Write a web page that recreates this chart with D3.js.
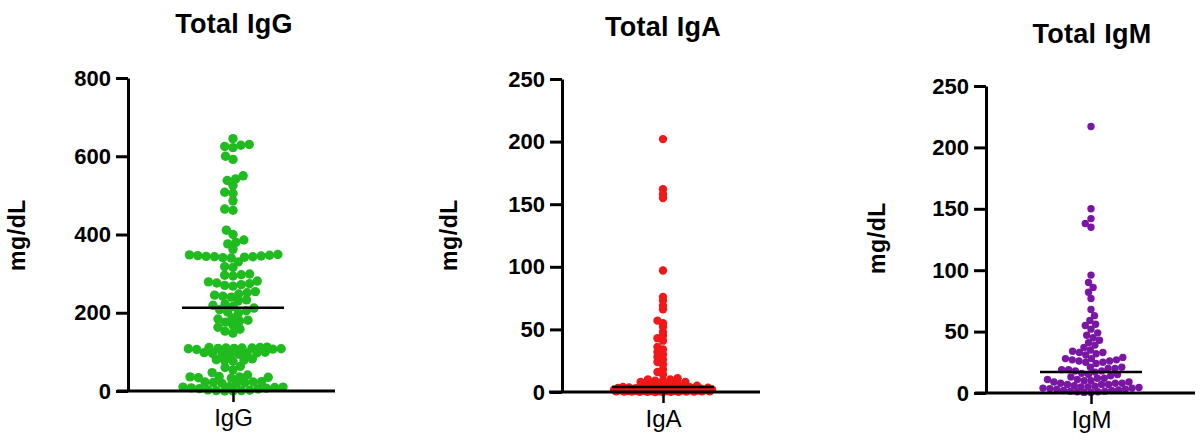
<!DOCTYPE html>
<html>
<head>
<meta charset="utf-8">
<script src="https://cdn.jsdelivr.net/npm/d3@7"></script>
<style>
  body { margin: 0; background: #fff; }
  svg { display: block; }
</style>
</head>
<body>
<svg width="1200" height="448"></svg>
<script>

// data
const categories = ["IgG", "IgA", "IgM"];
const titles = ["Total IgG", "Total IgA", "Total IgM"];
const yLabel = "mg/dL";

const igG = [
  645, 630, 628, 625, 622,
  600, 592,
  550, 542, 538, 525,
  508, 505,
  486,
  465, 462,
  411, 400, 386, 380, 376, 362,
  349, 348, 347, 346, 345, 344, 343, 343, 342, 341, 340,
  330, 318, 316,
  299, 297, 296, 294,
  281, 279, 276, 274, 272, 270, 268,
  254, 251, 248, 245, 242, 240,
  233, 230,
  222, 219, 216, 212, 208, 205, 202, 199,
  187, 184, 181, 179, 176,
  168, 163, 158, 153, 148,
  112, 111, 111, 110, 110, 110, 109, 109, 108, 108, 107, 106,
  99, 98, 97, 97, 96, 95, 94, 93,
  82, 80, 79, 78, 76,
  63, 60,
  54, 47, 41,
  37, 36, 36, 35, 34, 33,
  24, 23, 23, 22, 21, 20, 19,
  11, 10, 10, 9, 8, 7, 6, 5,
  3, 2, 1, 1, 0, 0
];

const igA = [
  202, 162, 158, 155, 97, 76, 73, 69, 66, 57, 55, 52, 48, 45, 43, 41,
  36, 34, 32, 30, 28, 26, 24, 22, 18, 16, 14,
  11, 10, 10, 9, 9, 8, 8, 8, 7, 7, 6, 6, 5,
  4, 4, 3.8, 3.6, 3.5, 3.4, 3.2, 3, 3, 2.9, 2.8, 2.7, 2.6, 2.5, 2.4, 2.3,
  2.2, 2.1, 2, 2, 1.9, 1.8, 1.7, 1.6, 1.5, 1.5, 1.4, 1.3, 1.2, 1.1, 1, 1,
  0.9, 0.8, 0.8, 0.7, 0.6, 0.6, 0.5, 0.5, 0.4, 0.4, 0.3, 0.3, 0.2, 0.2,
  0.1, 0.1, 0, 0
];

const igM = [
  217, 150, 142, 138, 135, 96, 90, 86, 82, 77, 68, 63, 59, 56, 55, 52,
  49, 47, 45, 43, 41, 39, 37,
  35, 34, 33, 33, 32, 31,
  29, 28, 28, 27, 27, 26, 26, 25, 25, 24,
  21, 21, 20, 20, 19, 19, 18, 18, 17, 16, 15, 15, 14, 13,
  12, 12, 11, 11, 10, 10, 9, 9, 8, 8, 8, 7, 7, 7, 6,
  5.5, 5, 5, 4.5, 4, 4, 3.5, 3, 3, 2.5, 2, 2, 1.5, 1.5, 1, 1, 0.5, 0.5
];

// horizontal line drawn across each group
const centerLines = [213, 4, 17];

const tickSets = [
  [0, 200, 400, 600, 800],
  [0, 50, 100, 150, 200, 250],
  [0, 50, 100, 150, 200, 250]
];

const series = [igG, igA, igM];

// layout per panel
const panels = [
  { axisX: 128, yTop: 78, yBase: 391, xStart: 117, xEnd: 335, cx: 233, titleX: 234, titleY: 33,
    labelX: 25, labelY: 235, r: 4.7, d: 8.4, ky: 1.2, half: 50, color: "#1fbb1f" },
  { axisX: 562, yTop: 79, yBase: 392, xStart: 549, xEnd: 760, cx: 663, titleX: 663, titleY: 36,
    labelX: 457, labelY: 235, r: 4.2, d: 7.8, ky: 2.2, half: 49, color: "#f01818" },
  { axisX: 986, yTop: 86, yBase: 393, xStart: 975, xEnd: 1195, cx: 1091, titleX: 1092, titleY: 43,
    labelX: 885, labelY: 238, r: 3.7, d: 6.9, ky: 1.05, half: 50, color: "#7a16a4" }
];

const font = "'Liberation Sans', Arial, sans-serif";
const svg = d3.select("svg");

// beeswarm: keeps y exact, pushes points sideways, squeezes when out of room
function swarm(values, y, d, ky, half) {
  let pts = values.map(v => ({ v: v, y: y(v) })).sort((a, b) => b.y - a.y);
  let placed = [];
  pts.forEach(p => {
    let near = placed.filter(q => Math.abs(q.y - p.y) * ky < d);
    let cands = [0];
    near.forEach(q => {
      let dy = (q.y - p.y) * ky;
      let dx = Math.sqrt(d * d - dy * dy);
      cands.push(q.x - dx, q.x + dx);
    });
    let ok = cands.filter(x => Math.abs(x) <= half && near.every(q => {
      let dx = q.x - x, dy = (q.y - p.y) * ky;
      return dx * dx + dy * dy >= d * d - 0.01;
    }));
    if (ok.length) {
      ok.sort((a, b) => Math.abs(a) - Math.abs(b));
      p.x = ok[0];
    } else {
      let best = 0, bestS = -1;
      for (let i = 0; i <= 2 * half; i++) {
        let x = (i % 2 ? 1 : -1) * Math.ceil(i / 2);
        let s = d3.min(near, q => (q.x - x) ** 2 + ((q.y - p.y) * ky) ** 2);
        if (s > bestS + 1e-6) { bestS = s; best = x; }
      }
      p.x = best;
    }
    placed.push(p);
  });
  return placed;
}

panels.forEach((P, i) => {
  let ticks = tickSets[i];
  let y = d3.scaleLinear()
    .domain([0, d3.max(ticks)])
    .range([P.yBase, P.yTop]);
  let x = d3.scalePoint()
    .domain([categories[i]])
    .range([P.cx - P.half, P.cx + P.half])
    .padding(0.5);

  let g = svg.append("g");

  // title
  g.append("text")
    .attr("x", P.titleX)
    .attr("y", P.titleY)
    .attr("text-anchor", "middle")
    .style("font-family", font)
    .style("font-weight", "bold")
    .style("font-size", "27px")
    .style("letter-spacing", "0.3px")
    .text(titles[i]);

  // y label
  g.append("text")
    .attr("transform", "translate(" + P.labelX + "," + P.labelY + ") rotate(-90)")
    .attr("text-anchor", "middle")
    .style("font-family", font)
    .style("font-weight", "bold")
    .style("font-size", "23px")
    .style("letter-spacing", "0.6px")
    .text(yLabel);

  // points
  let pts = swarm(series[i], y, P.d, P.ky, P.half);
  g.append("g")
    .selectAll("circle")
    .data(pts)
    .enter().append("circle")
    .attr("cx", d => x(categories[i]) + d.x)
    .attr("cy", d => d.y)
    .attr("r", P.r)
    .attr("fill", P.color);

  // center line
  g.append("line")
    .attr("x1", x(categories[i]) - 51)
    .attr("x2", x(categories[i]) + 51)
    .attr("y1", y(centerLines[i]))
    .attr("y2", y(centerLines[i]))
    .attr("stroke", "#000")
    .attr("stroke-width", 2.5);

  // y axis
  let yAxis = g.append("g")
    .attr("transform", "translate(" + P.axisX + ",0)")
    .call(d3.axisLeft(y).tickValues(ticks).tickSize(12).tickSizeOuter(0).tickPadding(5));
  yAxis.select(".domain").attr("stroke-width", 3).attr("stroke", "#000");
  yAxis.selectAll(".tick line").attr("stroke-width", 3).attr("stroke", "#000");
  yAxis.selectAll(".tick text")
    .style("font-family", font)
    .style("font-weight", "bold")
    .style("font-size", "22px")
    .attr("fill", "#000");

  // x axis
  let xAxis = g.append("g")
    .attr("transform", "translate(0," + P.yBase + ")")
    .call(d3.axisBottom(x).tickSize(11).tickSizeOuter(0).tickPadding(7));
  xAxis.select(".domain").remove();
  xAxis.selectAll(".tick line").attr("stroke-width", 2.5).attr("stroke", "#000");
  xAxis.selectAll(".tick text")
    .style("font-family", font)
    .style("font-size", "24px")
    .attr("fill", "#000");
  g.append("line")
    .attr("x1", P.xStart)
    .attr("x2", P.xEnd)
    .attr("y1", P.yBase)
    .attr("y2", P.yBase)
    .attr("stroke", "#000")
    .attr("stroke-width", 3);
});

</script>
</body>
</html>
